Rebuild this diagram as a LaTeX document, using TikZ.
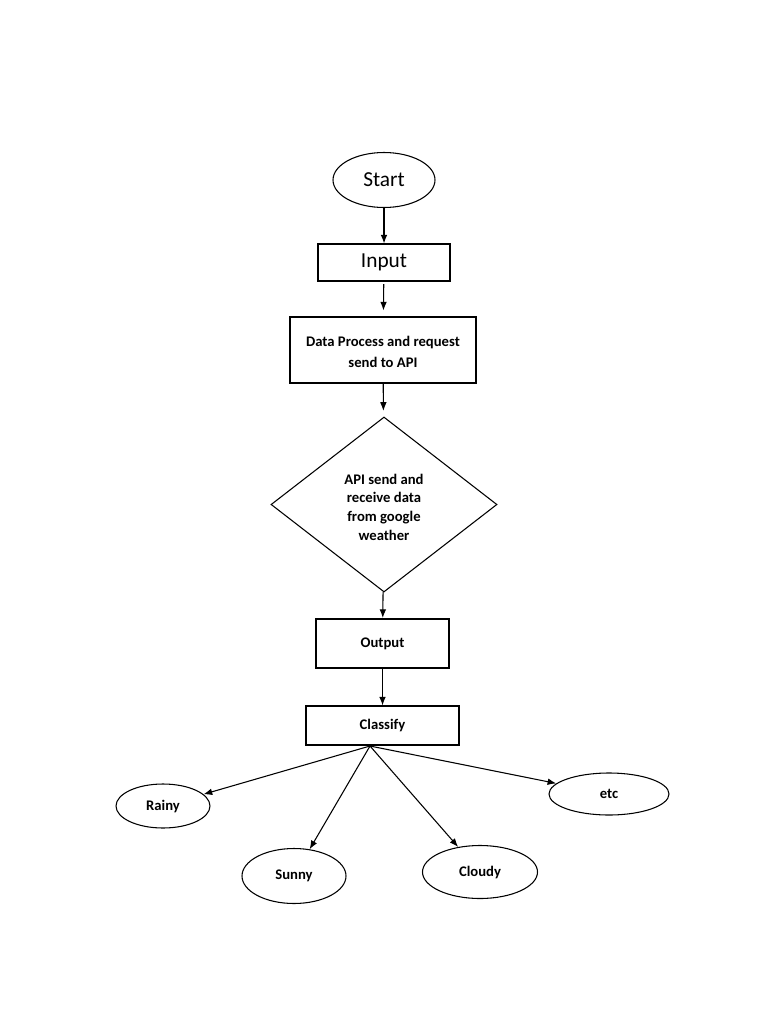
\documentclass[tikz,border=0pt]{standalone}
\usepackage{fontspec}
\setmainfont{Carlito}
\usetikzlibrary{shapes.geometric,arrows.meta}
\begin{document}
\begin{tikzpicture}[x=0.75pt,y=-0.75pt,
  box/.style={draw,line width=0.8pt,rectangle,inner sep=0pt},
  oval/.style={draw,line width=0.8pt,ellipse,inner sep=0pt},
  small/.style={font=\fontsize{11}{15.75}\selectfont\bfseries,align=center},
  big/.style={font=\fontsize{16}{19}\selectfont},
  arr/.style={draw,line width=0.8pt,-{Latex[length=6.5pt,width=5pt]}}]
\useasboundingbox (0,0) rectangle (768,1024);
\node[oval,big,minimum width=76.5pt,minimum height=41.25pt] (start) at (384,180) {Start};
\node[box,big,minimum width=99pt,minimum height=27.75pt] (input) at (384,262.5) {Input};
\node[box,small,minimum width=139.5pt,minimum height=49.5pt] (data) at (383,350) {};
\node[small] (datatext) at (383,352) {Data Process and request\\send to API};
\node[draw,line width=0.8pt,diamond,inner sep=0pt,minimum width=169.5pt,minimum height=131.25pt] (api) at (384,504.5) {};
\node[font=\fontsize{11}{14}\selectfont\bfseries,align=center] (apitext) at (384,507) {API send and\\receive data\\from google\\weather};
\node[box,small,line width=1.5pt,minimum width=99.75pt,minimum height=36.75pt] (output) at (382.5,643.5) {Output};
\node[box,small,minimum width=114.75pt,minimum height=29.25pt] (classify) at (382.5,725.5) {Classify};
\coordinate (fan) at (370,746);
\node[oval,small,minimum width=70.5pt,minimum height=33pt] (rainy) at (163,806) {Rainy};
\node[oval,small,minimum width=78pt,minimum height=41.25pt] (sunny) at (294,876) {Sunny};
\node[oval,small,minimum width=86.25pt,minimum height=39.75pt] (cloudy) at (480,872) {Cloudy};
\node[oval,small,minimum width=90pt,minimum height=31.5pt] (etc) at (609,794) {etc};
\draw[arr] (start) -- (input);
\draw[arr,shorten <=2pt,shorten >=4.5pt] (input) -- (data);
\draw[arr,shorten >=4.5pt] (data) -- (api);
\draw[arr] (api) -- (output);
\draw[arr] (output) -- (classify);
\draw[arr] (fan) -- (rainy);
\draw[arr] (fan) -- (sunny);
\draw[arr] (fan) -- (cloudy);
\draw[arr] (fan) -- (etc);
\end{tikzpicture}
\end{document}
